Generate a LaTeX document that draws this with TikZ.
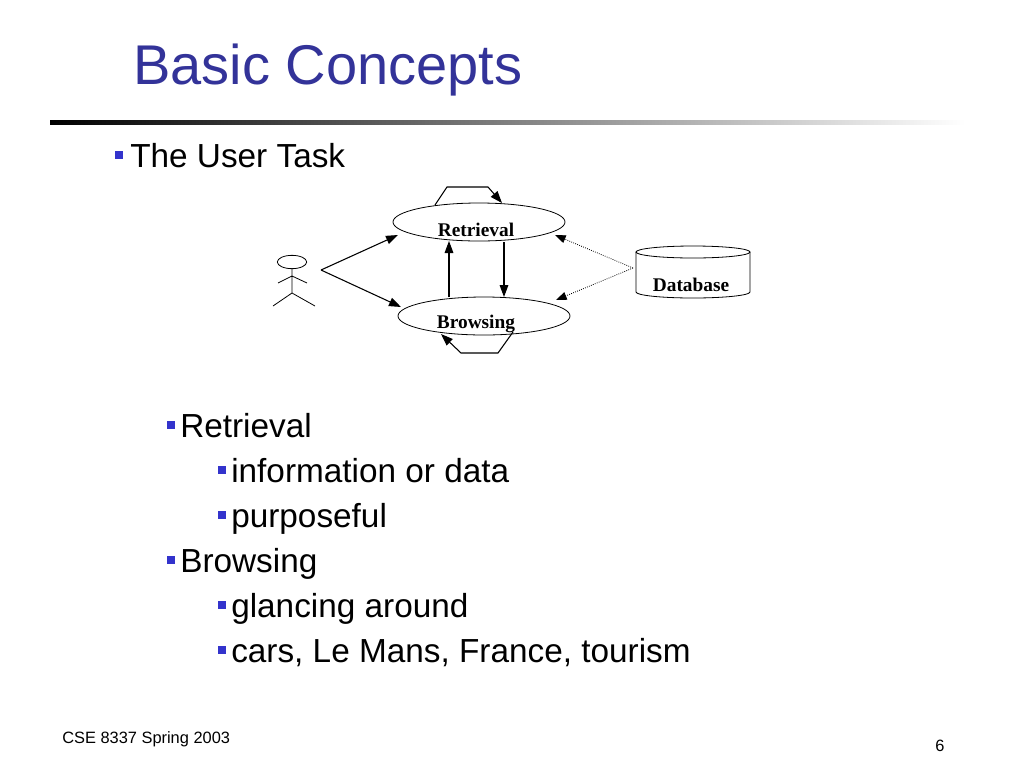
\documentclass[tikz,border=0pt]{standalone}
\usepackage{fontspec}
\setmainfont{Liberation Sans}
\newfontfamily\serifb{Liberation Serif}
\usetikzlibrary{arrows.meta,shadings,shapes.geometric}
\definecolor{titleblue}{RGB}{51,51,153}
\definecolor{bulletblue}{RGB}{51,51,204}
\begin{document}
\begin{tikzpicture}[x=0.75pt,y=-0.75pt,
  arr/.style={-{Triangle[length=9pt,width=6.5pt]},line width=0.8pt},
  dotarr/.style={-{Triangle[length=8pt,width=6pt]},densely dotted,line width=0.6pt},
  ell/.style={draw,ellipse,line width=0.6pt,minimum width=129pt,minimum height=28.5pt,inner sep=0pt},
  lbl/.style={font=\serifb\bfseries\fontsize{14.5}{14.5}\selectfont},
  txt/.style={anchor=base west,inner sep=0pt},
  big/.style={font=\fontsize{25}{25}\selectfont},
  bul/.style={fill=bulletblue,minimum size=5.5pt,inner sep=0pt}]
\useasboundingbox (0,0) rectangle (1024,768);
\fill[white] (0,0) rectangle (1024,768);
% title
\node[txt,text=titleblue,font=\fontsize{42}{42}\selectfont] (title) at (133,84) {Basic Concepts};
\shade[left color=black,right color=white] (50,120) rectangle (965,124);
% bullet 1
\node[bul] (b0) at (119,155) {};
\node[txt,big] (t0) at (130,167) {The User Task};
% diagram
\node[ell] (ret) at (479,222) {};
\node[lbl] (retl) at (476,230) {Retrieval};
\node[ell] (bro) at (484,316) {};
\node[lbl] (brol) at (476,324) {Browsing};
\draw[arr] (435,205) -- (447,187) -- (488,187) -- (502,203);
\draw[arr] (513,332) -- (498,353) -- (461,353) -- (441,334);
\draw[arr] (449,297) -- (449,241);
\draw[arr] (504,242) -- (504,297);
% actor
\draw[line width=0.6pt] (292,262) ellipse (11pt and 5pt);
\draw[line width=0.6pt] (292,268) -- (292,293) (278,283) -- (292,276) -- (307,283) (273,306) -- (292,293) -- (315,306);
\coordinate (ap) at (321,270);
\draw[arr] (ap) -- (398,235);
\draw[arr] (ap) -- (401,307);
% database
\draw[line width=0.6pt,fill=white] (636,252) -- (636,292) arc[start angle=180,end angle=0,x radius=57,y radius=6] -- (750,252);
\draw[line width=0.6pt] (693,252) ellipse (42.75pt and 4.5pt);
\node[lbl] (db) at (691,285) {Database};
\coordinate (dp) at (633,268);
\draw[dotarr] (dp) -- (555,235);
\draw[dotarr] (dp) -- (556,300);
% bullets
\node[bul] (b1) at (171,425) {};
\node[txt,big] (t1) at (180,437) {Retrieval};
\node[bul] (b2) at (222,470) {};
\node[txt,big] (t2) at (231,482) {information or data};
\node[bul] (b3) at (222,515) {};
\node[txt,big] (t3) at (231,527) {purposeful};
\node[bul] (b4) at (171,560) {};
\node[txt,big] (t4) at (180,572) {Browsing};
\node[bul] (b5) at (222,605) {};
\node[txt,big] (t5) at (231,617) {glancing around};
\node[bul] (b6) at (222,650) {};
\node[txt,big] (t6) at (231,662) {cars, Le Mans, France, tourism};
% footer
\node[txt,font=\fontsize{12.3}{12.3}\selectfont] (f1) at (62,743) {CSE 8337 Spring 2003};
\node[txt,font=\fontsize{12.3}{12.3}\selectfont] (f2) at (935,751) {6};
\end{tikzpicture}
\end{document}
